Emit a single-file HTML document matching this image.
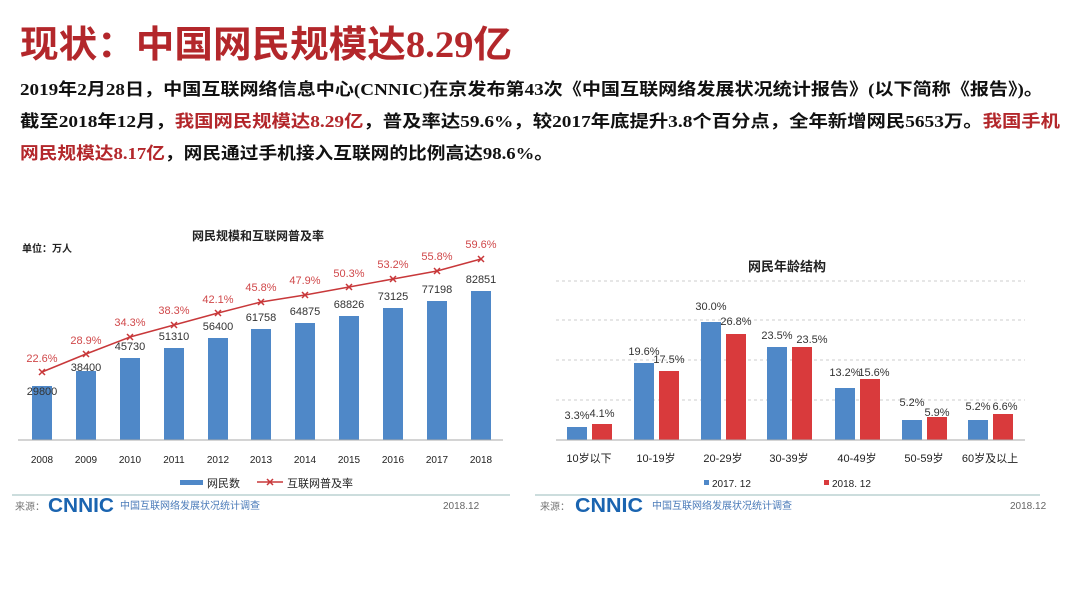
<!DOCTYPE html>
<html><head><meta charset="utf-8"><style>
html,body{margin:0;padding:0;background:#fff;}
svg{display:block}
text{font-family:"Liberation Sans","Noto Sans CJK SC",sans-serif;}
.p{font-family:"Liberation Serif","Noto Sans CJK SC",serif;font-weight:bold;font-size:17px;fill:#111}
.r{fill:#b3272b}
</style></head><body>
<svg width="1080" height="608" viewBox="0 0 1080 608" xmlns="http://www.w3.org/2000/svg">
<rect width="1080" height="608" fill="#fff"/>
<text x="20" y="57" font-size="37" font-weight="bold" fill="#b3272b" style="font-family:'Liberation Serif','Noto Sans CJK SC',serif" textLength="492" lengthAdjust="spacingAndGlyphs">现状：中国网民规模达8.29亿</text>
<text class="p" x="20" y="95" textLength="1023" lengthAdjust="spacingAndGlyphs">2019年2月28日，中国互联网络信息中心(CNNIC)在京发布第43次《中国互联网络发展状况统计报告》(以下简称《报告》)。</text>
<text class="p" x="20" y="127" textLength="1040" lengthAdjust="spacingAndGlyphs">截至2018年12月，<tspan class="r">我国网民规模达8.29亿</tspan>，普及率达59.6%，较2017年底提升3.8个百分点，全年新增网民5653万。<tspan class="r">我国手机</tspan></text>
<text class="p" x="20" y="159" textLength="533" lengthAdjust="spacingAndGlyphs"><tspan class="r">网民规模达8.17亿</tspan>，网民通过手机接入互联网的比例高达98.6%。</text>

<!-- LEFT CHART -->
<g font-size="11">
<text x="258" y="240" text-anchor="middle" font-weight="bold" font-size="12" fill="#222">网民规模和互联网普及率</text>
<text x="22" y="252" font-size="10" font-weight="bold" fill="#222">单位：万人</text>
<g fill="#4f88c8">
<rect x="32" y="386" width="20" height="54"/>
<rect x="76" y="371" width="20" height="69"/>
<rect x="120" y="358" width="20" height="82"/>
<rect x="164" y="348" width="20" height="92"/>
<rect x="208" y="338" width="20" height="102"/>
<rect x="251" y="329" width="20" height="111"/>
<rect x="295" y="323" width="20" height="117"/>
<rect x="339" y="316" width="20" height="124"/>
<rect x="383" y="308" width="20" height="132"/>
<rect x="427" y="301" width="20" height="139"/>
<rect x="471" y="291" width="20" height="149"/>
</g>
<line x1="18" y1="440" x2="503" y2="440" stroke="#aaa"/>
<g fill="#333" text-anchor="middle" font-size="11">
<text x="42" y="395">29800</text><text x="86" y="371">38400</text><text x="130" y="350">45730</text>
<text x="174" y="340">51310</text><text x="218" y="330">56400</text><text x="261" y="321">61758</text>
<text x="305" y="315">64875</text><text x="349" y="308">68826</text><text x="393" y="300">73125</text>
<text x="437" y="293">77198</text><text x="481" y="283">82851</text>
</g>
<polyline fill="none" stroke="#c8383a" stroke-width="1.5" points="42,372 86,354 130,337 174,325 218,313 261,302 305,295 349,287 393,279 437,271 481,259"/>
<g stroke="#c8383a" stroke-width="1.5">
<path d="M39,369l6,6M45,369l-6,6M83,351l6,6M89,351l-6,6M127,334l6,6M133,334l-6,6M171,322l6,6M177,322l-6,6M215,310l6,6M221,310l-6,6M258,299l6,6M264,299l-6,6M302,292l6,6M308,292l-6,6M346,284l6,6M352,284l-6,6M390,276l6,6M396,276l-6,6M434,268l6,6M440,268l-6,6M478,256l6,6M484,256l-6,6"/>
</g>
<g fill="#d0484a" text-anchor="middle" font-size="11">
<text x="42" y="362">22.6%</text><text x="86" y="344">28.9%</text><text x="130" y="326">34.3%</text>
<text x="174" y="314">38.3%</text><text x="218" y="303">42.1%</text><text x="261" y="291">45.8%</text>
<text x="305" y="284">47.9%</text><text x="349" y="277">50.3%</text><text x="393" y="268">53.2%</text>
<text x="437" y="260">55.8%</text><text x="481" y="248">59.6%</text>
</g>
<g fill="#222" text-anchor="middle" font-size="10">
<text x="42" y="463">2008</text><text x="86" y="463">2009</text><text x="130" y="463">2010</text>
<text x="174" y="463">2011</text><text x="218" y="463">2012</text><text x="261" y="463">2013</text>
<text x="305" y="463">2014</text><text x="349" y="463">2015</text><text x="393" y="463">2016</text>
<text x="437" y="463">2017</text><text x="481" y="463">2018</text>
</g>
<rect x="180" y="480" width="23" height="5" fill="#4f88c8"/>
<text x="207" y="487" font-size="11" fill="#222">网民数</text>
<line x1="257" y1="482" x2="283" y2="482" stroke="#c8383a" stroke-width="1.5"/>
<path d="M267,479l6,6M273,479l-6,6" stroke="#c8383a" stroke-width="1.5"/>
<text x="287" y="487" font-size="11" fill="#222">互联网普及率</text>
<line x1="12" y1="495" x2="510" y2="495" stroke="#9bb" stroke-width="1"/>
<text x="15" y="510" font-size="10" fill="#777">来源：</text>
<text x="48" y="512" font-size="20" font-weight="bold" fill="#1a64b0" textLength="66" lengthAdjust="spacingAndGlyphs">CNNIC</text>
<text x="120" y="509" font-size="10" fill="#4a7ab8">中国互联网络发展状况统计调查</text>
<text x="443" y="509" font-size="10" fill="#666">2018.12</text>
</g>

<!-- RIGHT CHART -->
<g font-size="11">
<text x="787" y="271" text-anchor="middle" font-weight="bold" font-size="13" fill="#222">网民年龄结构</text>
<g stroke="#ccc" stroke-dasharray="3,3">
<line x1="556" y1="281" x2="1025" y2="281"/><line x1="556" y1="320" x2="1025" y2="320"/>
<line x1="556" y1="360" x2="1025" y2="360"/><line x1="556" y1="400" x2="1025" y2="400"/>
</g>
<g fill="#4f88c8">
<rect x="567" y="427" width="20" height="13"/>
<rect x="634" y="363" width="20" height="77"/>
<rect x="701" y="322" width="20" height="118"/>
<rect x="767" y="347" width="20" height="93"/>
<rect x="835" y="388" width="20" height="52"/>
<rect x="902" y="420" width="20" height="20"/>
<rect x="968" y="420" width="20" height="20"/>
</g>
<g fill="#d93a3c">
<rect x="592" y="424" width="20" height="16"/>
<rect x="659" y="371" width="20" height="69"/>
<rect x="726" y="334" width="20" height="106"/>
<rect x="792" y="347" width="20" height="93"/>
<rect x="860" y="379" width="20" height="61"/>
<rect x="927" y="417" width="20" height="23"/>
<rect x="993" y="414" width="20" height="26"/>
</g>
<line x1="556" y1="440" x2="1025" y2="440" stroke="#aaa"/>
<g fill="#333" text-anchor="middle" font-size="11">
<text x="577" y="419">3.3%</text><text x="602" y="417">4.1%</text>
<text x="644" y="355">19.6%</text><text x="669" y="363">17.5%</text>
<text x="711" y="310">30.0%</text><text x="736" y="325">26.8%</text>
<text x="777" y="339">23.5%</text><text x="812" y="343">23.5%</text>
<text x="845" y="376">13.2%</text><text x="874" y="376">15.6%</text>
<text x="912" y="406">5.2%</text><text x="937" y="416">5.9%</text>
<text x="978" y="410">5.2%</text><text x="1005" y="410">6.6%</text>
</g>
<g fill="#222" text-anchor="middle" font-size="11">
<text x="589" y="462">10岁以下</text><text x="656" y="462">10-19岁</text><text x="723" y="462">20-29岁</text>
<text x="789" y="462">30-39岁</text><text x="857" y="462">40-49岁</text><text x="924" y="462">50-59岁</text>
<text x="990" y="462">60岁及以上</text>
</g>
<rect x="704" y="480" width="5" height="5" fill="#4f88c8"/>
<text x="712" y="487" font-size="10" fill="#222">2017. 12</text>
<rect x="824" y="480" width="5" height="5" fill="#d93a3c"/>
<text x="832" y="487" font-size="10" fill="#222">2018. 12</text>
<line x1="535" y1="495" x2="1040" y2="495" stroke="#9bb" stroke-width="1"/>
<text x="540" y="510" font-size="10" fill="#777">来源：</text>
<text x="575" y="512" font-size="20" font-weight="bold" fill="#1a64b0" textLength="68" lengthAdjust="spacingAndGlyphs">CNNIC</text>
<text x="652" y="509" font-size="10" fill="#4a7ab8">中国互联网络发展状况统计调查</text>
<text x="1010" y="509" font-size="10" fill="#666">2018.12</text>
</g>
</svg>
</body></html>
